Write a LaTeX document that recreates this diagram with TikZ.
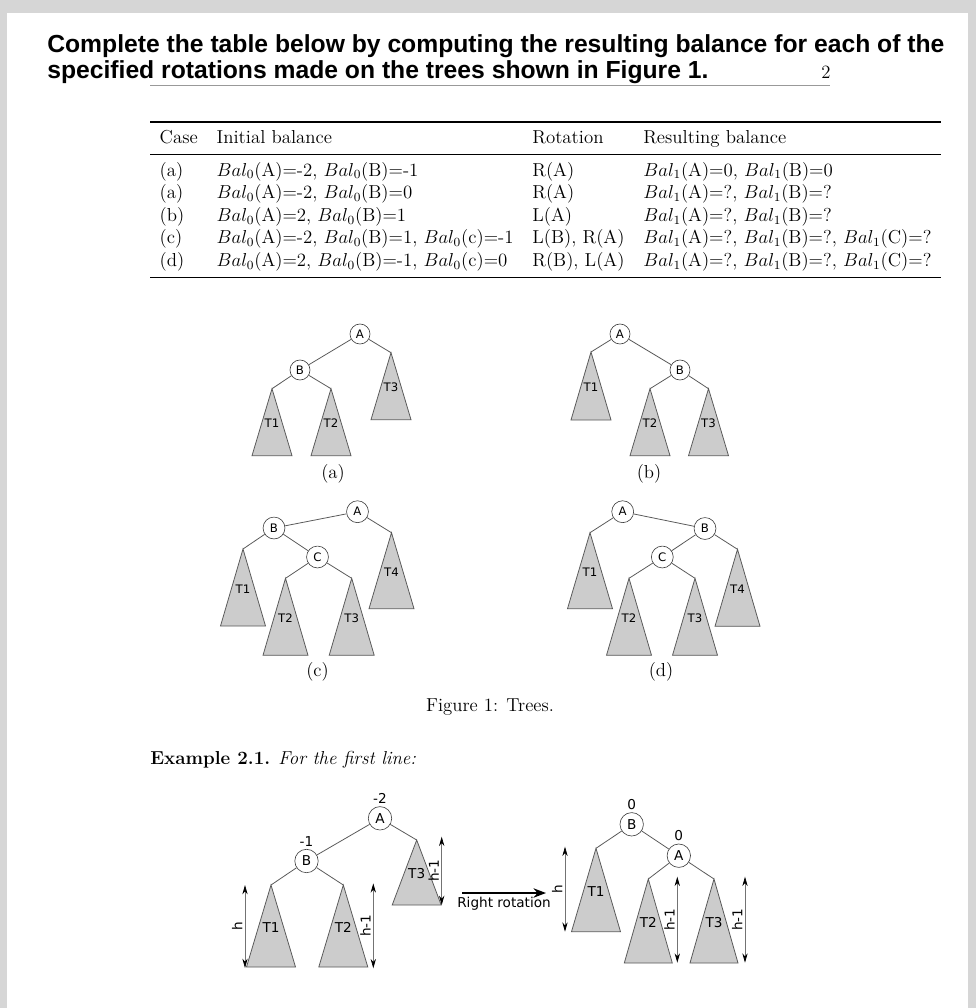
\documentclass[12pt,tikz,border=0pt]{standalone}
\usepackage{fontspec}
\usepackage{booktabs}
\usepackage{tikz}
\usetikzlibrary{arrows.meta,positioning,calc}
\newfontfamily\headfont{Liberation Sans}
\newfontfamily\treefont{DejaVu Sans}
\definecolor{pagegray}{RGB}{214,214,214}
\definecolor{treegray}{RGB}{204,204,204}

% subtree: name, apex, width, height, label
\newcommand{\subtree}[5]{%
  \coordinate (#1) at #2;
  \draw[tri] (#1) -- ++(-#3/2,#4) -- ++(#3,0) -- cycle;
  \node[lbl] (#1-l) at ($(#1)+(0,#4*0.52)$) {#5};
}

\begin{document}
\begin{tikzpicture}[x=0.64pt,y=-0.64pt,>=Stealth]
  \tikzstyle{title}=[inner sep=0pt,anchor=base west,font=\headfont\bfseries\fontsize{15.8}{17}\selectfont]
  \tikzstyle{vtx}=[circle,draw=black!75,fill=white,inner sep=0pt,minimum size=12.8pt,font=\treefont\fontsize{7.5}{8}\selectfont]
  \tikzstyle{bigvtx}=[vtx,minimum size=14pt]
  \tikzstyle{exvtx}=[vtx,minimum size=15pt,font=\treefont\fontsize{8.7}{9}\selectfont]
  \tikzstyle{tri}=[draw=black!65,fill=treegray,line width=0.5pt]
  \tikzstyle{edge}=[draw=black!65,line width=0.5pt]
  \tikzstyle{lbl}=[inner sep=0pt,font=\treefont\fontsize{7.5}{8}\selectfont]
  \tikzstyle{exlbl}=[inner sep=1pt,text=black,font=\treefont\fontsize{8.7}{9}\selectfont]
  \tikzstyle{hgt}=[black!55,line width=0.5pt,{Stealth[black,length=6pt,width=3.4pt]}-{Stealth[black,length=6pt,width=3.4pt]}]
  \tikzstyle{vlbl}=[exlbl,rotate=90,anchor=south,inner sep=1.5pt]
  \tikzstyle{rot}=[line width=1.8pt,-{Stealth[length=8pt,width=6pt]}]

  % page
  \useasboundingbox (0,0) rectangle (976,1008);
  \fill[pagegray] (0,0) rectangle (976,1008);
  \fill[white] (7,13) rectangle (968,1008);

  % head
  \draw[black!40,line width=0.6pt] (150,85) -- (830,85);
  \node[anchor=base] (pageno) at (826,78) {2};
  \node[title] (title1) at (47,52) {Complete the table below by computing the resulting balance for each of the};
  \node[title] (title2) at (47,78) {specified rotations made on the trees shown in Figure 1.};

  % table
  \node[anchor=north west,inner sep=0pt,xscale=1.006] (tab) at (150,121) {%
    \begin{tabular}{llll}
      \toprule
      Case & Initial balance & Rotation & Resulting balance \\
      \midrule
      (a) & $Bal_0$(A)=-2, $Bal_0$(B)=-1 & R(A) & $Bal_1$(A)=0, $Bal_1$(B)=0 \\
      (a) & $Bal_0$(A)=-2, $Bal_0$(B)=0 & R(A) & $Bal_1$(A)=?, $Bal_1$(B)=? \\
      (b) & $Bal_0$(A)=2, $Bal_0$(B)=1 & L(A) & $Bal_1$(A)=?, $Bal_1$(B)=? \\
      (c) & $Bal_0$(A)=-2, $Bal_0$(B)=1, $Bal_0$(c)=-1 & L(B), R(A) & $Bal_1$(A)=?, $Bal_1$(B)=?, $Bal_1$(C)=? \\
      (d) & $Bal_0$(A)=2, $Bal_0$(B)=-1, $Bal_0$(c)=0 & R(B), L(A) & $Bal_1$(A)=?, $Bal_1$(B)=?, $Bal_1$(C)=? \\
      \bottomrule
    \end{tabular}};

  % tree (a)
  \node[vtx] (a-A) at (360,334) {A};
  \node[vtx] (a-B) at (300,370) {B};
  \subtree{a-t1}{(272,388.7)}{40}{67}{T1}
  \subtree{a-t2}{(331,388.7)}{40}{67}{T2}
  \subtree{a-t3}{(391,352.7)}{40}{67}{T3}
  \draw[edge] (a-A) -- (a-B);
  \draw[edge] (a-A) -- (a-t3);
  \draw[edge] (a-B) -- (a-t1);
  \draw[edge] (a-B) -- (a-t2);
  \node (a-cap) at (333,474) {(a)};

  % tree (b)
  \node[vtx] (b-A) at (620,334) {A};
  \node[vtx] (b-B) at (680,370) {B};
  \subtree{b-t1}{(591,352)}{40}{68}{T1}
  \subtree{b-t2}{(650,388.7)}{40}{67}{T2}
  \subtree{b-t3}{(708.5,388.7)}{40}{67}{T3}
  \draw[edge] (b-A) -- (b-B);
  \draw[edge] (b-A) -- (b-t1);
  \draw[edge] (b-B) -- (b-t2);
  \draw[edge] (b-B) -- (b-t3);
  \node (b-cap) at (649,474) {(b)};

  % tree (c)
  \node[bigvtx] (c-A) at (357.5,511.7) {A};
  \node[bigvtx] (c-B) at (274,528) {B};
  \node[bigvtx] (c-C) at (317.5,557) {C};
  \subtree{c-t1}{(243,549)}{45}{77}{T1}
  \subtree{c-t2}{(285.5,578.3)}{45}{77}{T2}
  \subtree{c-t3}{(351.7,578.3)}{45}{77}{T3}
  \subtree{c-t4}{(391.5,532.7)}{45}{76}{T4}
  \draw[edge] (c-A) -- (c-B);
  \draw[edge] (c-A) -- (c-t4);
  \draw[edge] (c-B) -- (c-t1);
  \draw[edge] (c-B) -- (c-C);
  \draw[edge] (c-C) -- (c-t2);
  \draw[edge] (c-C) -- (c-t3);
  \node (c-cap) at (317.5,672) {(c)};

  % tree (d)
  \node[bigvtx] (d-A) at (622.7,511.7) {A};
  \node[bigvtx] (d-B) at (705,528.5) {B};
  \node[bigvtx] (d-C) at (662.3,557) {C};
  \subtree{d-t1}{(590,532.7)}{45}{76}{T1}
  \subtree{d-t2}{(629,578.3)}{45}{77}{T2}
  \subtree{d-t3}{(695,578.3)}{45}{77}{T3}
  \subtree{d-t4}{(737.5,549.3)}{45}{77}{T4}
  \draw[edge] (d-A) -- (d-B);
  \draw[edge] (d-A) -- (d-t1);
  \draw[edge] (d-B) -- (d-C);
  \draw[edge] (d-B) -- (d-t4);
  \draw[edge] (d-C) -- (d-t2);
  \draw[edge] (d-C) -- (d-t3);
  \node (d-cap) at (661,672) {(d)};

  \node (fig) at (490,707) {Figure 1: Trees.};
  \node[anchor=base west,inner sep=0pt] (ex) at (150,764) {\textbf{Example 2.1.} \textit{For the first line:}};

  % example, before rotation
  \tikzstyle{lbl}=[inner sep=0pt,font=\treefont\fontsize{8.7}{9}\selectfont]
  \node[exvtx] (l-A) at (380,818.3) {A};
  \node[exvtx] (l-B) at (306.5,861) {B};
  \node[exlbl,above=0.5pt of l-A] (l-bA) {-2};
  \node[exlbl,above=0.5pt of l-B] (l-bB) {-1};
  \subtree{l-t1}{(271,885)}{49}{82}{T1}
  \subtree{l-t2}{(343.3,885)}{49}{82}{T2}
  \subtree{l-t3}{(416.7,840)}{49}{65}{T3}
  \draw[edge] (l-A) -- (l-B);
  \draw[edge] (l-A) -- (l-t3);
  \draw[edge] (l-B) -- (l-t1);
  \draw[edge] (l-B) -- (l-t2);
  \coordinate (l-h1a) at (245,885);
  \coordinate (l-h1b) at (245,968);
  \coordinate (l-h2a) at (373.3,883.3);
  \coordinate (l-h2b) at (373.3,968.3);
  \coordinate (l-h3a) at (441.7,836.7);
  \coordinate (l-h3b) at (441.7,905);
  \draw[hgt] (l-h1a) -- node[vlbl,midway] {h} (l-h1b);
  \draw[hgt] (l-h2a) -- node[vlbl,midway] {h-1} (l-h2b);
  \draw[hgt] (l-h3a) -- node[vlbl,midway] {h-1} (l-h3b);

  % rotation arrow
  \coordinate (rot-s) at (462,893);
  \coordinate (rot-e) at (546,893);
  \draw[rot] (rot-s) -- node[exlbl,below,inner sep=1.5pt] {Right rotation} (rot-e);

  % example, after rotation
  \node[exvtx] (r-B) at (631.7,824.3) {B};
  \node[exvtx] (r-A) at (678.8,855.7) {A};
  \node[exlbl,above=0.5pt of r-B] (r-bB) {0};
  \node[exlbl,above=0.5pt of r-A] (r-bA) {0};
  \subtree{r-t1}{(596,848.3)}{49}{83.4}{T1}
  \subtree{r-t2}{(648.3,879)}{48}{84}{T2}
  \subtree{r-t3}{(714,879)}{48}{84}{T3}
  \draw[edge] (r-B) -- (r-A);
  \draw[edge] (r-B) -- (r-t1);
  \draw[edge] (r-A) -- (r-t2);
  \draw[edge] (r-A) -- (r-t3);
  \coordinate (r-h1a) at (565,846.7);
  \coordinate (r-h1b) at (565,931.7);
  \coordinate (r-h2a) at (677.3,876.7);
  \coordinate (r-h2b) at (677.3,962.7);
  \coordinate (r-h3a) at (745,876.7);
  \coordinate (r-h3b) at (745,962.7);
  \draw[hgt] (r-h1a) -- node[vlbl,midway] {h} (r-h1b);
  \draw[hgt] (r-h2a) -- node[vlbl,midway] {h-1} (r-h2b);
  \draw[hgt] (r-h3a) -- node[vlbl,midway] {h-1} (r-h3b);
\end{tikzpicture}
\end{document}
